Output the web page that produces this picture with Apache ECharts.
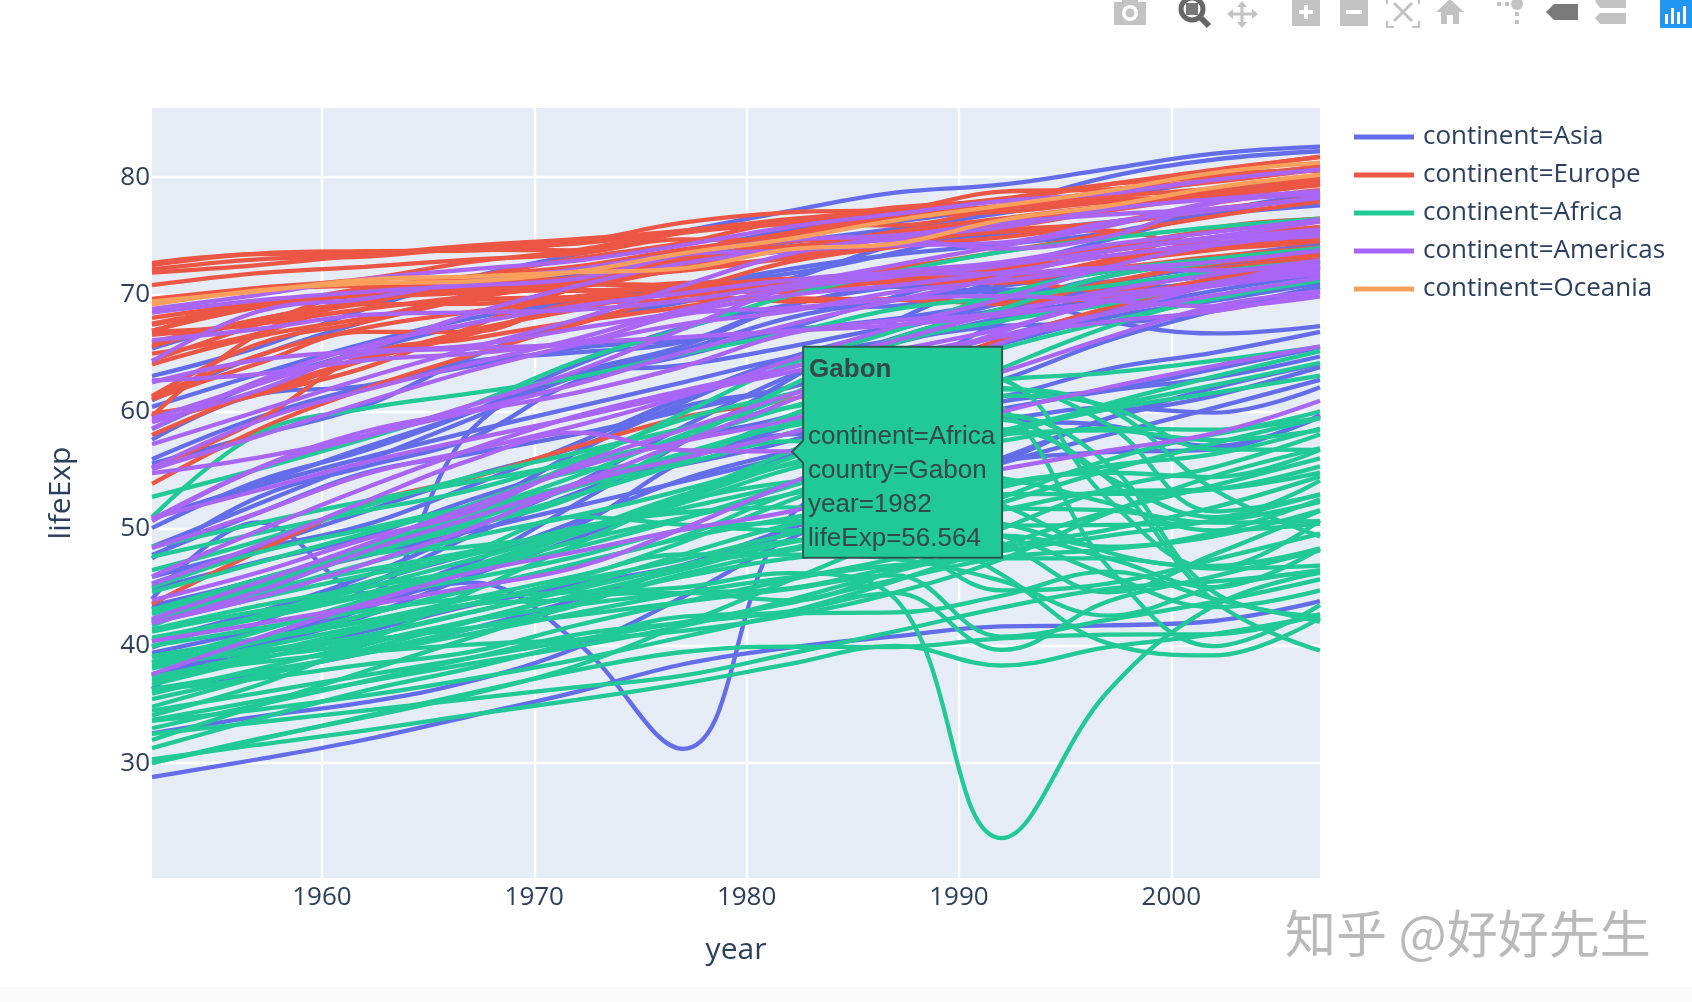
<!DOCTYPE html>
<html>
<head>
<meta charset="utf-8">
<title>lifeExp</title>
<script src="https://cdn.jsdelivr.net/npm/echarts@6/dist/echarts.min.js"></script>
<style>
	*{ margin:0px; padding:0px; }
	body{ background:#fff; }
	#main{ width:1692px; height:1002px; }
</style>
</head>
<body>
<div id="main"></div>
<script type="text/javascript">
const years = [1952,1957,1962,1967,1972,1977,1982,1987,1992,1997,2002,2007];
const yearTicks = [1960,1970,1980,1990,2000];
const lifeTicks = [30,40,50,60,70,80];

const asia = {
	Afghanistan:[28.801,30.332,31.997,34.02,36.088,38.438,39.854,40.822,41.674,41.763,42.129,43.828],
	Bahrain:[50.939,53.832,56.923,59.923,63.3,65.593,69.052,70.75,72.601,73.925,74.795,75.635],
	Bangladesh:[37.484,39.348,41.216,43.453,45.252,46.923,50.009,52.819,56.018,59.412,62.013,64.062],
	Cambodia:[39.417,41.366,43.415,45.415,40.317,31.22,50.957,53.914,55.803,56.534,56.752,59.723],
	China:[44,50.549,44.501,58.381,63.119,63.967,65.525,67.274,68.69,70.426,72.028,72.961],
	HongKong:[60.96,64.75,67.65,70,72,73.6,75.45,76.2,77.601,80,81.495,82.208],
	India:[37.373,40.249,43.605,47.193,50.651,54.208,56.596,58.553,60.223,61.765,62.879,64.698],
	Indonesia:[37.468,39.918,42.518,45.964,49.203,52.702,56.159,60.137,62.681,66.041,68.588,70.65],
	Iran:[44.869,47.181,49.325,52.469,55.234,57.702,59.62,63.04,65.742,68.042,69.451,70.964],
	Iraq:[45.32,48.437,51.457,54.459,56.95,60.413,62.038,65.044,59.461,58.811,57.046,59.545],
	Israel:[65.39,67.84,69.39,70.75,71.63,73.06,74.45,75.6,76.93,78.269,79.696,80.745],
	Japan:[63.03,65.5,68.73,71.43,73.42,75.38,77.11,78.67,79.36,80.69,82,82.603],
	Jordan:[43.158,45.669,48.126,51.629,56.528,61.134,63.739,65.869,68.015,69.772,71.263,72.535],
	KoreaDem:[50.056,54.081,56.656,59.942,63.983,67.159,69.1,70.647,69.978,67.727,66.662,67.297],
	KoreaRep:[47.453,52.681,55.292,57.716,62.612,64.766,67.123,69.81,72.244,74.647,77.045,78.623],
	Kuwait:[55.565,58.033,60.47,64.624,67.712,69.343,71.309,74.174,75.19,76.156,76.904,77.588],
	Lebanon:[55.928,59.489,62.094,63.87,65.421,66.099,66.983,67.926,69.292,70.265,71.028,71.993],
	Malaysia:[48.463,52.102,55.737,59.371,63.01,65.256,68,69.5,70.693,71.938,73.044,74.241],
	Mongolia:[42.244,45.248,48.251,51.253,53.754,55.491,57.489,60.222,61.271,63.625,65.033,66.803],
	Myanmar:[36.319,41.905,45.108,49.379,53.07,56.059,58.056,58.339,59.32,60.328,59.908,62.069],
	Nepal:[36.157,37.686,39.393,41.472,43.971,46.748,49.594,52.537,55.727,59.426,61.34,63.785],
	Oman:[37.578,40.08,43.165,46.988,52.143,57.367,62.728,67.734,71.197,72.499,74.193,75.64],
	Pakistan:[43.436,45.557,47.67,49.8,51.929,54.043,56.158,58.245,60.838,61.818,63.61,65.483],
	Philippines:[47.752,51.334,54.757,56.393,58.065,60.06,62.082,64.151,66.458,68.564,70.303,71.688],
	SaudiArabia:[39.875,42.868,45.914,49.901,53.886,58.69,63.012,66.295,68.768,70.533,71.626,72.777],
	Singapore:[60.396,63.179,65.798,67.946,69.521,70.795,71.76,73.56,75.788,77.158,78.77,79.972],
	SriLanka:[57.593,61.456,62.192,64.266,65.042,65.949,68.757,69.011,70.379,70.457,70.815,72.396],
	Syria:[45.883,48.284,50.305,53.655,57.296,61.195,64.59,66.974,69.249,71.527,73.053,74.143],
	Taiwan:[58.5,62.4,65.2,67.5,69.39,70.59,72.16,73.4,74.26,75.25,76.99,78.4],
	Thailand:[50.848,53.63,56.061,58.285,60.405,62.494,64.597,66.084,67.298,67.521,68.564,70.616],
	Vietnam:[40.412,42.887,45.363,47.838,50.254,55.764,58.816,62.82,67.662,70.672,73.017,74.249],
	WestBank:[43.16,45.671,48.127,51.631,56.532,60.765,64.406,67.046,69.718,71.096,72.37,73.422],
	Yemen:[32.548,33.97,35.18,36.984,39.848,44.175,49.113,52.922,55.599,58.02,60.308,62.698]
};

const europe = {
	Albania:[55.23,59.28,64.82,66.22,67.69,68.93,70.42,72,71.581,72.95,75.651,76.423],
	Austria:[66.8,67.48,69.54,70.14,70.63,72.17,73.18,74.94,76.04,77.51,78.98,79.829],
	Belgium:[68,69.24,70.25,70.94,71.44,72.8,73.93,75.35,76.46,77.53,78.32,79.441],
	Bosnia:[53.82,58.45,61.93,64.79,67.45,69.86,70.69,71.14,72.178,73.244,74.09,74.852],
	Bulgaria:[59.6,66.61,69.51,70.42,70.9,70.81,71.08,71.34,71.19,70.32,72.14,73.005],
	Croatia:[61.21,64.77,67.13,68.5,69.61,70.64,70.46,71.52,72.527,73.68,74.876,75.748],
	Czech:[66.87,69.03,69.9,70.38,70.29,70.71,70.96,71.58,72.4,74.01,75.51,76.486],
	Denmark:[70.78,71.81,72.35,72.96,73.47,74.69,74.63,74.8,75.33,76.11,77.18,78.332],
	Finland:[66.55,67.49,68.75,69.83,70.87,72.52,74.55,74.83,75.7,77.13,78.37,79.313],
	France:[67.41,68.93,70.51,71.55,72.38,73.83,74.89,76.34,77.46,78.64,79.59,80.657],
	Germany:[67.5,69.1,70.3,70.8,71,72.5,73.8,74.847,76.07,77.34,78.67,79.406],
	Greece:[65.86,67.86,69.51,71,72.34,73.68,75.24,76.67,77.03,77.869,78.256,79.483],
	Hungary:[64.03,66.41,67.96,69.5,69.76,69.95,69.39,69.58,69.17,71.04,72.59,73.338],
	Iceland:[72.49,73.47,73.68,73.73,74.46,76.11,76.99,77.23,78.77,78.95,80.5,81.757],
	Ireland:[66.91,68.9,70.29,71.08,71.28,72.03,73.1,74.36,75.467,76.122,77.783,78.885],
	Italy:[65.94,67.81,69.24,71.06,72.19,73.48,74.98,76.42,77.44,78.82,80.24,80.546],
	Montenegro:[59.164,61.448,63.728,67.178,70.636,73.066,74.101,74.865,75.435,75.445,73.981,74.543],
	Netherlands:[72.13,72.99,73.23,73.82,73.75,75.24,76.05,76.83,77.42,78.03,78.53,79.762],
	Norway:[72.67,73.44,73.47,74.08,74.34,75.37,75.97,75.89,77.32,78.32,79.05,80.196],
	Poland:[61.31,65.77,67.64,69.61,70.85,70.67,71.32,70.98,70.99,72.75,74.67,75.563],
	Portugal:[59.82,61.51,64.39,66.6,69.26,70.41,72.77,74.06,74.86,75.97,77.29,78.098],
	Romania:[61.05,64.1,66.8,66.8,69.21,69.46,69.66,69.53,69.36,69.72,71.322,72.476],
	Serbia:[57.996,61.685,64.531,66.914,68.7,70.3,70.162,71.218,71.659,72.232,73.213,74.002],
	Slovakia:[64.36,67.45,70.33,70.98,70.35,70.45,70.8,71.08,71.38,72.71,73.8,74.663],
	Slovenia:[65.57,67.85,69.15,69.18,69.82,70.97,71.063,72.25,73.64,75.13,76.66,77.926],
	Spain:[64.94,66.66,69.69,71.44,73.06,74.39,76.3,76.9,77.57,78.77,79.78,80.941],
	Sweden:[71.86,72.49,73.37,74.16,74.72,75.44,76.42,77.19,78.16,79.39,80.04,80.884],
	Switzerland:[69.62,70.56,71.32,72.77,73.78,75.39,76.21,77.41,78.03,79.37,80.62,81.701],
	Turkey:[43.585,48.079,52.098,54.336,57.005,59.507,61.036,63.108,66.146,68.835,70.845,71.777],
	UnitedKingdom:[69.18,70.42,70.76,71.36,72.01,72.76,74.04,75.007,76.42,77.218,78.471,79.425]
};

const africa = {
	Algeria:[43.077,45.685,48.303,51.407,54.518,58.014,61.368,65.799,67.744,69.152,70.994,72.301],
	Angola:[30.015,31.999,34,35.985,37.928,39.483,39.942,39.906,40.647,40.963,41.003,42.731],
	Benin:[38.223,40.358,42.618,44.885,47.014,49.19,50.904,52.337,53.919,54.777,54.406,56.728],
	Botswana:[47.622,49.618,51.52,53.298,56.024,59.319,61.484,63.622,62.745,52.556,46.634,50.728],
	BurkinaFaso:[31.975,34.906,37.814,40.697,43.591,46.137,48.122,49.557,50.26,50.324,50.65,52.295],
	Burundi:[39.031,40.533,42.045,43.548,44.057,45.91,47.471,48.211,44.736,45.326,47.36,49.58],
	Cameroon:[38.523,40.428,42.643,44.799,47.049,49.355,52.961,54.985,54.314,52.199,49.856,50.43],
	CentralAfricanRep:[35.463,37.464,39.475,41.478,43.457,46.775,48.295,50.485,49.396,46.066,43.308,44.741],
	Chad:[38.092,39.881,41.716,43.601,45.569,47.383,49.517,51.051,51.724,51.573,50.525,50.651],
	Comoros:[40.715,42.46,44.467,46.472,48.944,50.939,52.933,54.926,57.939,60.66,62.974,65.152],
	CongoDem:[39.143,40.652,42.122,44.056,45.989,47.804,47.784,47.412,45.548,42.587,44.966,46.462],
	CongoRep:[42.111,45.053,48.435,52.04,54.907,55.625,57.479,56.433,52.962,52.97,53.373,55.322],
	CoteDIvoire:[40.477,42.469,44.93,47.35,49.801,52.374,53.983,54.655,52.044,47.991,46.832,48.328],
	Djibouti:[34.812,37.328,39.693,42.074,44.366,46.519,48.812,50.04,51.604,53.157,53.373,54.791],
	Egypt:[41.893,44.444,46.992,49.293,51.137,53.319,56.006,59.797,63.674,67.217,69.806,71.338],
	EquatorialGuinea:[34.482,35.983,37.485,38.987,40.516,42.024,43.662,45.664,47.545,48.245,49.348,51.579],
	Eritrea:[35.928,38.047,40.158,42.189,44.142,44.535,43.89,46.453,49.991,53.378,55.24,58.04],
	Ethiopia:[34.078,36.667,40.059,42.115,43.515,44.51,44.916,46.684,48.091,49.402,50.725,52.947],
	Gabon:[37.003,38.999,40.489,44.598,48.69,52.79,56.564,60.19,61.366,60.461,56.761,56.735],
	Gambia:[30,32.065,33.896,35.857,38.308,41.842,45.58,49.265,52.644,55.861,58.041,59.448],
	Ghana:[43.149,44.779,46.452,48.072,49.875,51.756,53.744,55.729,57.501,58.556,58.453,60.022],
	Guinea:[33.609,34.558,35.753,37.197,38.842,40.762,42.891,45.552,48.576,51.455,53.676,56.007],
	GuineaBissau:[32.5,33.489,34.488,35.492,36.486,37.465,39.327,41.245,43.266,44.873,45.504,46.388],
	Kenya:[42.27,44.686,47.949,50.654,53.559,56.155,58.766,59.339,59.285,54.407,50.992,54.11],
	Lesotho:[42.138,45.047,47.747,48.492,49.767,52.208,55.078,57.18,59.685,55.558,44.593,42.592],
	Liberia:[38.48,39.486,40.502,41.536,42.614,43.764,44.852,46.027,40.802,42.221,43.753,45.678],
	Libya:[42.723,45.289,47.808,50.227,52.773,57.442,62.155,66.234,68.755,71.555,72.737,73.952],
	Madagascar:[36.681,38.865,40.848,42.881,44.851,46.881,48.969,49.35,52.214,54.978,57.286,59.443],
	Malawi:[36.256,37.207,38.41,39.487,41.766,43.767,45.642,47.457,49.42,47.495,45.009,48.303],
	Mali:[33.685,35.307,36.936,38.487,39.977,41.714,43.916,46.364,48.388,49.903,51.818,54.467],
	Mauritania:[40.543,42.338,44.248,46.289,48.437,50.852,53.599,56.145,58.333,60.43,62.247,64.164],
	Mauritius:[50.986,58.089,60.246,61.557,62.944,64.93,66.711,68.74,69.745,70.736,71.954,72.801],
	Morocco:[42.873,45.423,47.924,50.335,52.862,55.73,59.65,62.677,65.393,67.66,69.615,71.164],
	Mozambique:[31.286,33.779,36.161,38.113,40.328,42.495,42.795,42.861,44.284,46.344,44.026,42.082],
	Namibia:[41.725,45.226,48.386,51.159,53.867,56.437,58.968,60.835,61.999,58.909,51.479,52.906],
	Niger:[37.444,38.598,39.487,40.118,40.546,41.291,42.598,44.555,47.391,51.313,54.496,56.867],
	Nigeria:[36.324,37.802,39.36,41.04,42.821,44.514,45.826,46.886,47.472,47.464,46.608,46.859],
	Reunion:[52.724,55.09,57.666,60.542,64.274,67.064,69.885,71.913,73.615,74.772,75.744,76.442],
	Rwanda:[40,41.5,43,44.1,44.6,45,46.218,44.02,23.599,36.087,43.413,46.242],
	SaoTome:[46.471,48.945,51.893,54.425,56.48,58.55,60.351,61.728,62.742,63.306,64.337,65.528],
	Senegal:[37.278,39.329,41.454,43.563,45.815,48.879,52.379,55.769,58.196,60.187,61.6,63.062],
	SierraLeone:[30.331,31.57,32.767,34.113,35.4,36.788,38.445,40.006,38.333,39.897,41.012,42.568],
	Somalia:[32.978,34.977,36.981,38.977,40.973,41.974,42.955,44.501,39.658,43.795,45.936,48.159],
	SouthAfrica:[45.009,47.985,49.951,51.927,53.696,55.527,58.161,60.834,61.888,60.236,53.365,49.339],
	Sudan:[38.635,39.624,40.87,42.858,45.083,47.8,50.338,51.744,53.556,55.373,56.369,58.556],
	Swaziland:[41.407,43.424,44.992,46.633,49.552,52.537,55.561,57.678,58.474,54.289,43.869,39.613],
	Tanzania:[41.215,42.974,44.246,45.757,47.62,49.919,50.608,51.535,50.44,48.466,49.651,52.517],
	Togo:[38.596,41.208,43.922,46.769,49.759,52.887,55.471,56.941,58.061,58.39,57.561,58.42],
	Tunisia:[44.6,47.1,49.579,52.053,55.602,59.837,64.048,66.894,70.001,71.973,73.042,73.923],
	Uganda:[39.978,42.571,45.344,48.051,51.016,50.35,49.849,51.509,48.825,44.578,47.813,51.542],
	Zambia:[42.038,44.077,46.023,47.768,50.107,51.386,51.821,50.821,46.1,40.238,39.193,42.384],
	Zimbabwe:[48.451,50.469,52.358,53.995,55.635,57.674,60.363,62.351,60.377,46.809,39.989,43.487]
};

const americas = {
	Argentina:[62.485,64.399,65.142,65.634,67.065,68.481,69.942,70.774,71.868,73.275,74.34,75.32],
	Bolivia:[40.414,41.89,43.428,45.032,46.714,50.023,53.859,57.251,59.957,62.05,63.883,65.554],
	Brazil:[50.917,53.285,55.665,57.632,59.504,61.489,63.336,65.205,67.057,69.388,71.006,72.39],
	Canada:[68.75,69.96,71.3,72.13,72.88,74.21,75.76,76.86,77.95,78.61,79.77,80.653],
	Chile:[54.745,56.074,57.924,60.523,63.441,67.052,70.565,72.492,74.126,75.816,77.86,78.553],
	Colombia:[50.643,55.118,57.863,59.963,61.623,63.837,66.653,67.768,68.421,70.313,71.682,72.889],
	CostaRica:[57.206,60.026,62.842,65.424,67.849,70.75,73.45,74.86,75.713,77.26,78.123,78.782],
	Cuba:[59.421,62.325,65.246,68.29,70.723,72.649,73.717,74.174,74.414,76.151,77.158,78.273],
	DominicanRep:[45.928,49.828,53.459,56.751,59.631,61.788,63.727,66.046,68.457,69.957,70.847,72.235],
	Ecuador:[48.357,51.356,54.64,56.678,58.796,61.31,64.342,67.231,69.613,72.312,74.173,74.994],
	ElSalvador:[45.262,48.57,52.307,55.855,58.207,56.696,56.604,63.154,66.798,69.535,70.734,71.878],
	Guatemala:[42.023,44.142,46.954,50.016,53.738,56.029,58.137,60.782,63.373,66.322,68.978,70.259],
	Haiti:[37.579,40.696,43.59,46.243,48.042,49.923,51.461,53.636,55.089,56.671,58.137,60.916],
	Honduras:[41.912,44.665,48.041,50.924,53.884,57.402,60.909,64.492,66.399,67.659,68.565,70.198],
	Jamaica:[58.53,62.61,65.61,67.51,69,70.11,71.21,71.77,71.766,72.262,72.047,72.567],
	Mexico:[50.789,55.19,58.299,60.11,62.361,65.032,67.405,69.498,71.455,73.67,74.902,76.195],
	Nicaragua:[42.314,45.432,48.632,51.884,55.151,57.47,59.298,62.008,65.843,68.426,70.836,72.899],
	Panama:[55.191,59.201,61.817,64.071,66.216,68.681,70.472,71.523,72.462,73.738,74.712,75.537],
	Paraguay:[62.649,63.196,64.361,64.951,65.815,66.353,66.874,67.378,68.225,69.4,70.755,71.752],
	Peru:[43.902,46.263,49.096,51.445,55.448,58.447,61.406,64.134,66.458,68.386,69.906,71.421],
	PuertoRico:[64.28,68.54,69.62,71.1,72.16,73.44,73.75,74.63,73.911,74.917,77.778,78.746],
	Trinidad:[59.1,61.8,64.9,65.4,65.9,68.3,68.832,69.582,69.862,69.465,68.976,69.819],
	UnitedStates:[68.44,69.49,70.21,70.76,71.34,73.38,74.65,75.02,76.09,76.81,77.31,78.242],
	Uruguay:[66.071,67.044,68.253,68.468,68.673,69.481,70.805,71.918,72.752,74.223,75.307,76.384],
	Venezuela:[55.088,57.907,60.77,63.479,65.712,67.456,68.557,70.19,71.15,72.146,72.766,73.747]
};

const oceania = {
	Australia:[69.12,70.33,70.93,71.1,71.93,73.49,74.74,76.32,77.56,78.83,80.37,81.235],
	NewZealand:[69.39,70.26,71.24,71.52,71.89,72.22,73.84,74.32,76.33,77.55,79.11,80.204]
};

const continents = ['Asia','Europe','Africa','Americas','Oceania'];
const continentData = [asia,europe,africa,americas,oceania];
const colors = ['#636dea','#ec5644','#20c995','#a965f5','#f9a05c'];

const inkColor = '#2a3f5f';
const axisFont = '"Open Sans", sans-serif';

var series = [];
continents.forEach(function (c, i) {
	Object.keys(continentData[i]).forEach(function (country) {
		series.push({
			type: 'line',
			name: 'continent=' + c,
			data: continentData[i][country].map(function (v, k) { return [years[k], v]; }),
			smooth: 0.4,
			symbol: 'none',
			lineStyle: { width: 4.3, color: colors[i] },
			itemStyle: { color: colors[i] },
			silent: true
		});
	});
});

var myChart = echarts.init(document.getElementById('main'));
myChart.setOption({
	animation: false,
	grid: { left: 152, top: 108, width: 1168, height: 770, backgroundColor: '#e5ecf6', show: true, borderWidth: 0 },
	legend: {
		orient: 'vertical',
		left: 1354,
		top: 122,
		padding: 0,
		icon: 'rect',
		itemWidth: 60,
		itemHeight: 5,
		itemGap: 8,
		data: continents.map(function (c) { return 'continent=' + c; }),
		textStyle: { color: inkColor, fontFamily: axisFont, fontSize: 26, lineHeight: 26, padding: [4, 0, 0, 4] }
	},
	xAxis: {
		type: 'value',
		min: 1952,
		max: 2007,
		interval: 10,
		name: 'year',
		nameLocation: 'middle',
		nameGap: 57,
		nameTextStyle: { color: inkColor, fontFamily: axisFont, fontSize: 30 },
		axisLine: { show: false },
		axisTick: { show: false },
		axisLabel: {
			color: inkColor, fontFamily: axisFont, fontSize: 26, margin: 7,
			customValues: yearTicks,
			formatter: function (v) { return String(v); }
		},
		splitLine: { show: false }
	},
	yAxis: {
		type: 'value',
		min: 20.2,
		max: 85.9,
		interval: 10,
		name: 'lifeExp',
		nameLocation: 'middle',
		nameGap: 76,
		nameTextStyle: { color: inkColor, fontFamily: axisFont, fontSize: 30 },
		axisLine: { show: false },
		axisTick: { show: false },
		axisLabel: {
			color: inkColor, fontFamily: axisFont, fontSize: 26, margin: 2,
			customValues: lifeTicks
		},
		splitLine: { show: false }
	},
	series: [{
		type: 'line',
		data: [],
		silent: true,
		z: 0,
		markLine: {
			silent: true,
			z: 0,
			symbol: 'none',
			label: { show: false },
			lineStyle: { color: '#fff', width: 2.4, type: 'solid' },
			data: yearTicks.map(function (t) { return { xAxis: t }; })
				.concat(lifeTicks.map(function (t) { return { yAxis: t }; }))
		}
	}].concat(series)
});

// hover box, anchored on the Gabon 1982 point
var tip = myChart.convertToPixel({ xAxisIndex: 0, yAxisIndex: 0 }, [1982, 56.564]);
var tipLines = ['continent=Africa', 'country=Gabon', 'year=1982', 'lifeExp=56.564'];
var tipX = tip[0] + 14, tipTop = tip[1] - 105, tipBottom = tip[1] + 106, tipRight = tip[0] + 213;

function gray(pts, fill) { return { type: 'polygon', shape: { points: pts }, style: { fill: fill || '#c2c2c2' } }; }
function box(x, y, w, h, fill) { return { type: 'rect', shape: { x: x, y: y, width: w, height: h }, style: { fill: fill || '#c2c2c2' } }; }
function stroke(pts, color, w) { return { type: 'polyline', shape: { points: pts }, style: { stroke: color || '#c2c2c2', lineWidth: w || 3, fill: null } }; }
function dot(x, y, r, fill) { return { type: 'circle', shape: { cx: x, cy: y, r: r }, style: { fill: fill || '#c2c2c2' } }; }

var toolbar = [
	// camera
	box(1114, 2, 32, 23), box(1122, -2, 16, 6), dot(1130, 13, 8, '#fff'), dot(1130, 13, 4.5),
	// zoom, active
	{ type: 'circle', shape: { cx: 1192, cy: 9, r: 11 }, style: { stroke: '#666', lineWidth: 5, fill: '#fff' } },
	box(1186, 3, 12, 12, '#777'), stroke([[1200, 17], [1209, 26]], '#666', 6),
	// pan
	stroke([[1231, 14], [1254, 14]]), stroke([[1242, 3], [1242, 25]]),
	gray([[1227, 14], [1233, 9], [1233, 19]]), gray([[1258, 14], [1252, 9], [1252, 19]]),
	gray([[1242, 1], [1237, 7], [1247, 7]]), gray([[1242, 28], [1237, 22], [1247, 22]]),
	// zoom in, zoom out
	box(1292, -2, 28, 28), box(1299, 10, 14, 4, '#fff'), box(1304, 5, 4, 14, '#fff'),
	box(1340, -2, 28, 28), box(1346, 10, 16, 4, '#fff'),
	// autoscale
	stroke([[1387, 4], [1387, -2]], '#c2c2c2', 2), stroke([[1419, 4], [1419, -2]], '#c2c2c2', 2),
	stroke([[1387, 21], [1387, 27], [1394, 27]], '#c2c2c2', 2), stroke([[1419, 21], [1419, 27], [1412, 27]], '#c2c2c2', 2),
	stroke([[1394, 3], [1412, 21]], '#c2c2c2', 3), stroke([[1412, 3], [1394, 21]], '#c2c2c2', 3),
	// home
	gray([[1450, -1], [1464, 12], [1459, 12], [1459, 24], [1453, 24], [1453, 15], [1447, 15], [1447, 24], [1441, 24], [1441, 12], [1436, 12]]),
	// spikes
	box(1497, 2, 4, 4), box(1505, 2, 4, 4), dot(1517, 4, 6), box(1515, 12, 4, 4), box(1515, 20, 4, 4),
	// hover closest, hover compare
	gray([[1546, 12], [1554, 4], [1578, 4], [1578, 20], [1554, 20]], '#7a7a7a'),
	gray([[1595, 1], [1600, -3], [1626, -3], [1626, 8], [1600, 8]]),
	gray([[1595, 18], [1600, 13], [1626, 13], [1626, 24], [1600, 24]]),
	// logo
	box(1660, -2, 32, 30, '#2196f3'),
	box(1665, 14, 3, 10, '#fff'), box(1671, 8, 3, 16, '#fff'), box(1677, 12, 3, 12, '#fff'), box(1683, 6, 3, 18, '#fff')
];
toolbar.forEach(function (el, k) { el.z = 100 + k; });

var tipBoxes = [
	{
		type: 'polygon', z: 200,
		shape: { points: [[tip[0] + 3, tip[1]], [tipX, tip[1] - 11], [tipX, tipTop], [tipRight, tipTop], [tipRight, tipBottom], [tipX, tipBottom], [tipX, tip[1] + 11]] },
		style: { fill: '#20c995', stroke: '#2a5a50', lineWidth: 2 }
	},
	{
		type: 'text', x: tipX + 6, y: tip[1] - 82, z: 201,
		style: { text: 'Gabon', fill: '#35484a', font: 'bold 26px "Liberation Sans", Arial, sans-serif', verticalAlign: 'middle' }
	}
].concat(tipLines.map(function (t, k) {
	return {
		type: 'text', x: tipX + 5, y: tip[1] - 15 + k * 34, z: 201,
		style: { text: t, fill: '#35484a', font: '26px "Liberation Sans", Arial, sans-serif', verticalAlign: 'middle' }
	};
}));

myChart.setOption({
	graphic: {
		elements: [
			box(0, 987, 1692, 15, '#fbfbfb'),
			{
				type: 'text', left: 1285, top: 908, z: 5,
				style: { text: '知乎 @好好先生', fill: '#b9b9b9', font: '51px "Noto Sans CJK SC", sans-serif' }
			}
		].concat(toolbar, tipBoxes)
	}
});
</script>
</body>
</html>
